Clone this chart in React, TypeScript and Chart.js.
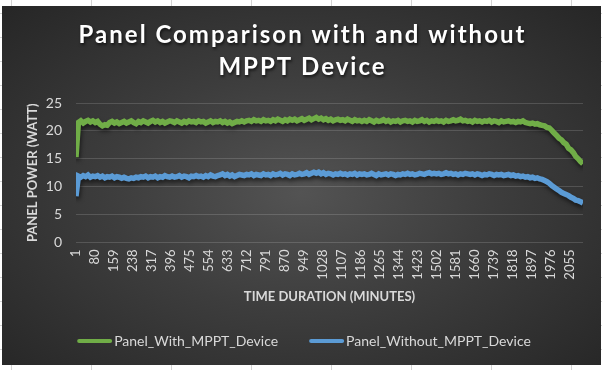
import React, { useEffect, useRef } from "react";
import { Chart, registerables } from "chart.js";

Chart.register(...registerables);

const titleLines = ["Panel Comparison with and without", "MPPT Device"];
const yAxisTitle = "PANEL POWER (WATT)";
const xAxisTitle = "TIME DURATION (MINUTES)";
const seriesNames = ["Panel_With_MPPT_Device", "Panel_Without_MPPT_Device"];
const seriesColors = ["#70ad47", "#5b9bd5"];

// samples taken every 10 minutes, first at minute 1
const SAMPLE_STEP = 10;
const FIRST_MINUTE = 1;

const panelWithMppt = [
  15.3, 21.5, 21.8, 21.4, 21.7, 21.9, 21.6, 21.8, 21.5, 21.7,
  21.2, 20.9, 21.1, 21.0, 21.5, 21.7, 21.4, 21.6, 21.3, 21.5,
  21.7, 21.4, 21.6, 21.8, 21.5, 21.3, 21.7, 21.5, 21.8, 21.6,
  21.4, 21.7, 21.9, 21.6, 21.8, 21.5, 21.7, 21.4, 21.6, 21.8,
  21.7, 21.5, 21.8, 21.6, 21.4, 21.7, 21.5, 21.8, 21.6, 21.7,
  21.5, 21.8, 21.6, 21.7, 21.4, 21.6, 21.8, 21.5, 21.7, 21.6,
  21.8, 21.5, 21.7, 21.4, 21.6, 21.3, 21.5, 21.7, 21.6, 21.8,
  21.6, 21.8, 21.9, 21.7, 22.0, 21.8, 21.9, 21.7, 22.0, 21.8,
  21.9, 21.7, 22.0, 21.8, 22.1, 21.9, 21.7, 22.0, 21.8, 22.1,
  21.9, 22.1, 21.8, 22.0, 22.2, 21.9, 22.1, 22.3, 22.0, 22.2,
  22.4, 22.1, 22.3, 22.0, 22.2, 21.9, 22.1, 21.8, 22.0, 22.1,
  21.9, 22.0, 21.8, 22.1, 21.9, 21.7, 22.0, 21.8, 21.9, 21.7,
  21.9, 21.7, 22.0, 21.8, 21.6, 21.9, 21.7, 21.8, 22.0, 21.7,
  21.9, 21.6, 21.8, 21.7, 21.9, 21.6, 21.8, 21.9, 21.7, 21.8,
  21.6, 21.9, 21.7, 21.8, 22.0, 21.7, 21.9, 21.6, 21.8, 21.7,
  21.9, 21.7, 21.8, 21.6, 21.9, 21.7, 21.8, 22.0, 21.8, 21.9,
  22.1, 21.8, 21.9, 21.7, 21.8, 21.6, 21.9, 21.7, 21.8, 21.6,
  21.8, 21.7, 21.9, 21.6, 21.8, 21.7, 21.5, 21.8, 21.6, 21.7,
  21.8, 21.6, 21.7, 21.5, 21.7, 21.6, 21.8, 21.5, 21.4, 21.3,
  21.4, 21.2, 21.3, 21.1, 21.0, 20.9, 20.6, 20.5, 20.1, 19.6,
  19.2, 18.7, 18.4, 17.9, 17.6, 16.9, 16.6, 16.1, 15.4, 15.0,
  14.5, 14.1,
];

const panelWithoutMppt = [
  8.3, 11.9, 11.7, 12.0, 11.8, 12.1, 11.7, 11.9, 11.8, 12.0,
  11.7, 11.9, 11.6, 11.8, 11.7, 11.9, 11.6, 11.8, 11.7, 11.5,
  11.7, 11.5, 11.4, 11.6, 11.5, 11.7, 11.6, 11.8, 11.7, 11.9,
  11.6, 11.8, 11.7, 11.9, 11.6, 11.8, 11.7, 12.0, 11.8, 11.7,
  11.9, 11.7, 11.8, 12.0, 11.7, 11.9, 11.8, 11.6, 11.9, 11.8,
  12.0, 11.8, 11.9, 11.7, 12.0, 11.8, 12.1, 11.9, 11.8, 12.0,
  12.1, 12.3, 12.0, 12.2, 11.9, 12.1, 11.8, 12.0, 12.2, 12.1,
  12.0, 12.2, 12.1, 12.3, 12.0, 12.2, 12.1, 12.0, 12.3, 12.1,
  12.2, 12.0, 12.3, 12.1, 12.2, 12.4, 12.1, 12.3, 12.2, 12.0,
  12.3, 12.1, 12.2, 12.4, 12.2, 12.3, 12.5, 12.2, 12.4, 12.6,
  12.4, 12.6, 12.3, 12.5, 12.2, 12.4, 12.3, 12.1, 12.3, 12.2,
  12.4, 12.2, 12.3, 12.1, 12.3, 12.2, 12.4, 12.1, 12.3, 12.2,
  12.3, 12.1, 12.2, 12.4, 12.2, 12.0, 12.3, 12.1, 12.2, 12.3,
  12.1, 12.3, 12.2, 12.0, 12.2, 12.1, 12.3, 12.2, 12.4, 12.2,
  12.3, 12.1, 12.2, 12.4, 12.3, 12.2, 12.4, 12.5, 12.3, 12.4,
  12.3, 12.4, 12.2, 12.3, 12.5, 12.3, 12.4, 12.2, 12.3, 12.1,
  12.3, 12.2, 12.4, 12.3, 12.2, 12.3, 12.1, 12.3, 12.2, 12.0,
  12.2, 12.1, 12.3, 12.2, 12.0, 12.2, 12.1, 12.2, 12.0, 12.1,
  12.2, 12.0, 12.1, 11.9, 12.0, 11.8, 11.9, 11.7, 11.8, 11.6,
  11.7, 11.5, 11.6, 11.4, 11.3, 11.1, 10.9, 10.6, 10.2, 9.9,
  9.6, 9.3, 9.0, 8.8, 8.6, 8.4, 8.1, 7.9, 7.6, 7.5,
  7.3, 7.1,
];

const xTickMinutes = [
  1, 80, 159, 238, 317, 396, 475, 554, 633, 712, 791, 870, 949, 1028,
  1107, 1186, 1265, 1344, 1423, 1502, 1581, 1660, 1739, 1818, 1897, 1976, 2055,
];

const yTicks = [0, 5, 10, 15, 20, 25];

const FONT = "Lato";
const TEXT_COLOR = "#d9d9d9";

const lineShadow = {
  id: "lineShadow",
  beforeDatasetDraw(chart: any) {
    const c = chart.ctx;
    c.save();
    c.shadowColor = "rgba(0,0,0,0.55)";
    c.shadowBlur = 4;
    c.shadowOffsetX = 1;
    c.shadowOffsetY = 3;
  },
  afterDatasetDraw(chart: any) {
    chart.ctx.restore();
  },
};

const titleBlock = {
  id: "titleBlock",
  afterDraw(chart: any) {
    const c = chart.ctx;
    c.save();
    c.font = `bold 24px ${FONT}`;
    c.fillStyle = "#ffffff";
    c.textAlign = "center";
    c.textBaseline = "alphabetic";
    c.shadowColor = "rgba(0,0,0,0.65)";
    c.shadowBlur = 3;
    c.shadowOffsetX = 1;
    c.shadowOffsetY = 2;
    try { c.letterSpacing = "2px"; } catch (e) {}
    titleLines.forEach((t, i) => c.fillText(t, chart.width / 2 + 1, 37 + i * 31.7));
    c.restore();
  },
};

const bottomLegend = {
  id: "bottomLegend",
  afterDraw(chart: any) {
    const c = chart.ctx;
    c.save();
    c.font = `14px ${FONT}`;
    c.textBaseline = "middle";
    c.textAlign = "left";
    const lineW = 35;
    const gap = 2;
    const itemGap = 31;
    const items = chart.data.datasets.map((ds: any) => ({
      label: ds.label,
      color: ds.borderColor,
      w: c.measureText(ds.label).width,
    }));
    const total =
      items.reduce((s: number, it: any) => s + lineW + gap + it.w, 0) + itemGap * (items.length - 1);
    let x = 302 - total / 2;
    const y = 335;
    items.forEach((it: any) => {
      c.strokeStyle = it.color;
      c.lineWidth = 4;
      c.lineCap = "round";
      c.beginPath();
      c.moveTo(x + 2, y);
      c.lineTo(x + lineW - 2, y);
      c.stroke();
      c.fillStyle = TEXT_COLOR;
      c.fillText(it.label, x + lineW + gap, y + 0.5);
      x += lineW + gap + it.w + itemGap;
    });
    c.restore();
  },
};

export default function App() {
  const canvasRef = useRef<HTMLCanvasElement | null>(null);

  useEffect(() => {
    const canvas = canvasRef.current;
    if (!canvas) return;
    const toPoints = (vals: number[]) =>
      vals.map((v, i) => ({ x: FIRST_MINUTE + i * SAMPLE_STEP, y: v }));
    const lastMinute = FIRST_MINUTE + (panelWithMppt.length - 1) * SAMPLE_STEP;

    const chart = new Chart(canvas, {
      type: "line",
      data: {
        datasets: [
          {
            label: seriesNames[0],
            data: toPoints(panelWithMppt),
            borderColor: seriesColors[0],
            backgroundColor: seriesColors[0],
            borderWidth: 5.5,
            pointRadius: 0,
            tension: 0,
            fill: false,
          },
          {
            label: seriesNames[1],
            data: toPoints(panelWithoutMppt),
            borderColor: seriesColors[1],
            backgroundColor: seriesColors[1],
            borderWidth: 5.5,
            pointRadius: 0,
            tension: 0,
            fill: false,
          },
        ],
      },
      options: {
        animation: false,
        responsive: false,
        devicePixelRatio: 1,
        layout: { padding: { left: 0, right: 18, top: 97, bottom: 52.5 } },
        plugins: {
          legend: { display: false },
          title: { display: false },
          tooltip: { enabled: false },
        },
        scales: {
          x: {
            type: "linear",
            min: FIRST_MINUTE,
            max: lastMinute,
            afterBuildTicks: (axis: any) => {
              axis.ticks = xTickMinutes.map((v) => ({ value: v }));
            },
            afterFit: (axis: any) => {
              axis.height = 70;
            },
            grid: { display: false, drawTicks: false },
            border: { display: false },
            ticks: {
              autoSkip: false,
              minRotation: 90,
              maxRotation: 90,
              padding: 7,
              color: TEXT_COLOR,
              font: { family: FONT, size: 13 },
              callback: (v: any) => String(v),
            },
            title: {
              display: true,
              text: xAxisTitle,
              color: TEXT_COLOR,
              font: { family: FONT, size: 13, weight: "bold" },
              padding: { top: 0, bottom: 7.7 },
            },
          },
          y: {
            min: 0,
            max: 25,
            afterBuildTicks: (axis: any) => {
              axis.ticks = yTicks.map((v) => ({ value: v }));
            },
            afterFit: (axis: any) => {
              axis.width = 74;
            },
            grid: { color: "rgba(255,255,255,0.15)", lineWidth: 1, drawTicks: false },
            border: { display: false },
            ticks: {
              padding: 14,
              color: TEXT_COLOR,
              font: { family: FONT, size: 14 },
            },
            title: {
              display: true,
              text: yAxisTitle,
              color: TEXT_COLOR,
              font: { family: FONT, size: 13, weight: "bold" },
              padding: { top: 23, bottom: 0 },
            },
          },
        },
      },
      plugins: [lineShadow, titleBlock, bottomLegend],
    });
    return () => chart.destroy();
  }, []);

  return (
    <div
      style={{
        position: "fixed",
        left: 0,
        top: 0,
        width: 602,
        height: 370,
        backgroundColor: "#ffffff",
        backgroundImage:
          "linear-gradient(to right, #d4d4d4 1px, transparent 1px), linear-gradient(to bottom, #d4d4d4 1px, transparent 1px)",
        backgroundSize: "80px 24px",
        backgroundPosition: "11px 13px",
        overflow: "hidden",
      }}
    >
      <div
        style={{
          position: "absolute",
          left: 2,
          top: 6,
          width: 599,
          height: 359,
          background: "radial-gradient(farthest-corner at 50% 52%, #535353 0%, #3d3d3d 45%, #262626 100%)",
        }}
      >
        <canvas ref={canvasRef} width={599} height={359} style={{ display: "block", width: 599, height: 359 }} />
      </div>
    </div>
  );
}
